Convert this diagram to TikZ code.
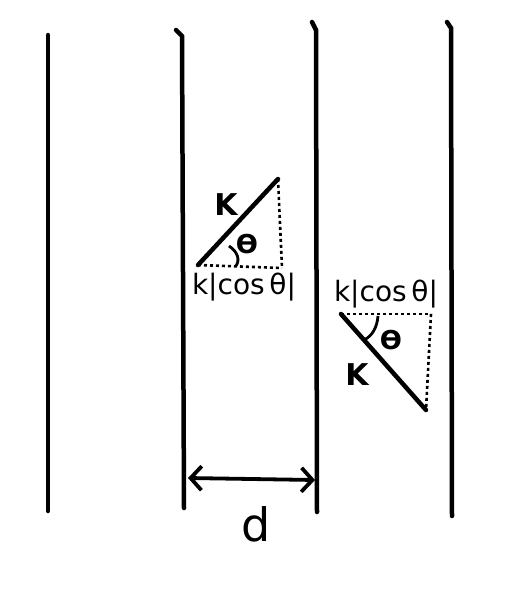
\documentclass[tikz,border=0pt]{standalone}
\usepackage{fontspec}
\setmainfont{DejaVu Sans}
\usetikzlibrary{arrows.meta}
\begin{document}
\begin{tikzpicture}[x=1pt,y=-1pt,
  wall/.style={line width=4.5pt,line cap=round},
  hyp/.style={line width=4.5pt,line cap=round},
  proj/.style={line width=2.6pt,dash pattern=on 3pt off 3pt},
  arc/.style={line width=2.8pt},
  lbl/.style={inner sep=0pt,font=\fontsize{28}{30}\selectfont},
  klbl/.style={inner sep=0pt,font=\bfseries\fontsize{30}{32}\selectfont},
  thlbl/.style={inner sep=0pt,font=\bfseries\fontsize{26}{28}\selectfont}]
\useasboundingbox (0,0) rectangle (522,592);
% walls
\coordinate (w1t) at (48,35); \coordinate (w1b) at (48,511);
\coordinate (w2t) at (176,30); \coordinate (w2m) at (182,36); \coordinate (w2b) at (184,508);
\coordinate (w3t) at (312,22); \coordinate (w3m) at (316,30); \coordinate (w3b) at (317,512);
\coordinate (w4t) at (447,22); \coordinate (w4m) at (451,28); \coordinate (w4b) at (452,516);
\draw[wall] (w1t) -- (w1b);
\draw[wall] (w2t) -- (w2m) -- (w2b);
\draw[wall] (w3t) -- (w3m) -- (w3b);
\draw[wall] (w4t) -- (w4m) -- (w4b);
% triangle 1
\coordinate (a1) at (198,265); \coordinate (b1) at (278,179); \coordinate (c1) at (282,268);
\draw[hyp] (a1) -- (b1);
\draw[proj] (b1) -- (c1);
\draw[proj] (a1) -- (c1);
\draw[arc] (229,246) .. controls (238,252) and (240,260) .. (236,266);
\node[thlbl] (th1) at (247,244) {ϴ};
\node[klbl] (k1) at (226,205) {K};
\node[lbl] (kc1) at (244,287) {k|cos\,θ|};
% triangle 2
\coordinate (a2) at (341,314); \coordinate (b2) at (426,410); \coordinate (c2) at (431,314);
\draw[hyp] (a2) -- (b2);
\draw[proj] (a2) -- (c2);
\draw[proj] (c2) -- (b2);
\draw[arc] (378,316) .. controls (377,328) and (372,336) .. (364,340);
\node[thlbl] (th2) at (391,340) {ϴ};
\node[klbl] (k2) at (357,375) {K};
\node[lbl] (kc2) at (386,294) {k|cos\,θ|};
% distance d
\coordinate (l) at (188,478); \coordinate (r) at (315,480);
\draw[line width=3.8pt,{Straight Barb[length=11pt,width=24pt]}-{Straight Barb[length=11pt,width=24pt]}] (l) -- (r);
\node[inner sep=0pt,font=\fontsize{46}{48}\selectfont] (d) at (256,524) {d};
\end{tikzpicture}
\end{document}
